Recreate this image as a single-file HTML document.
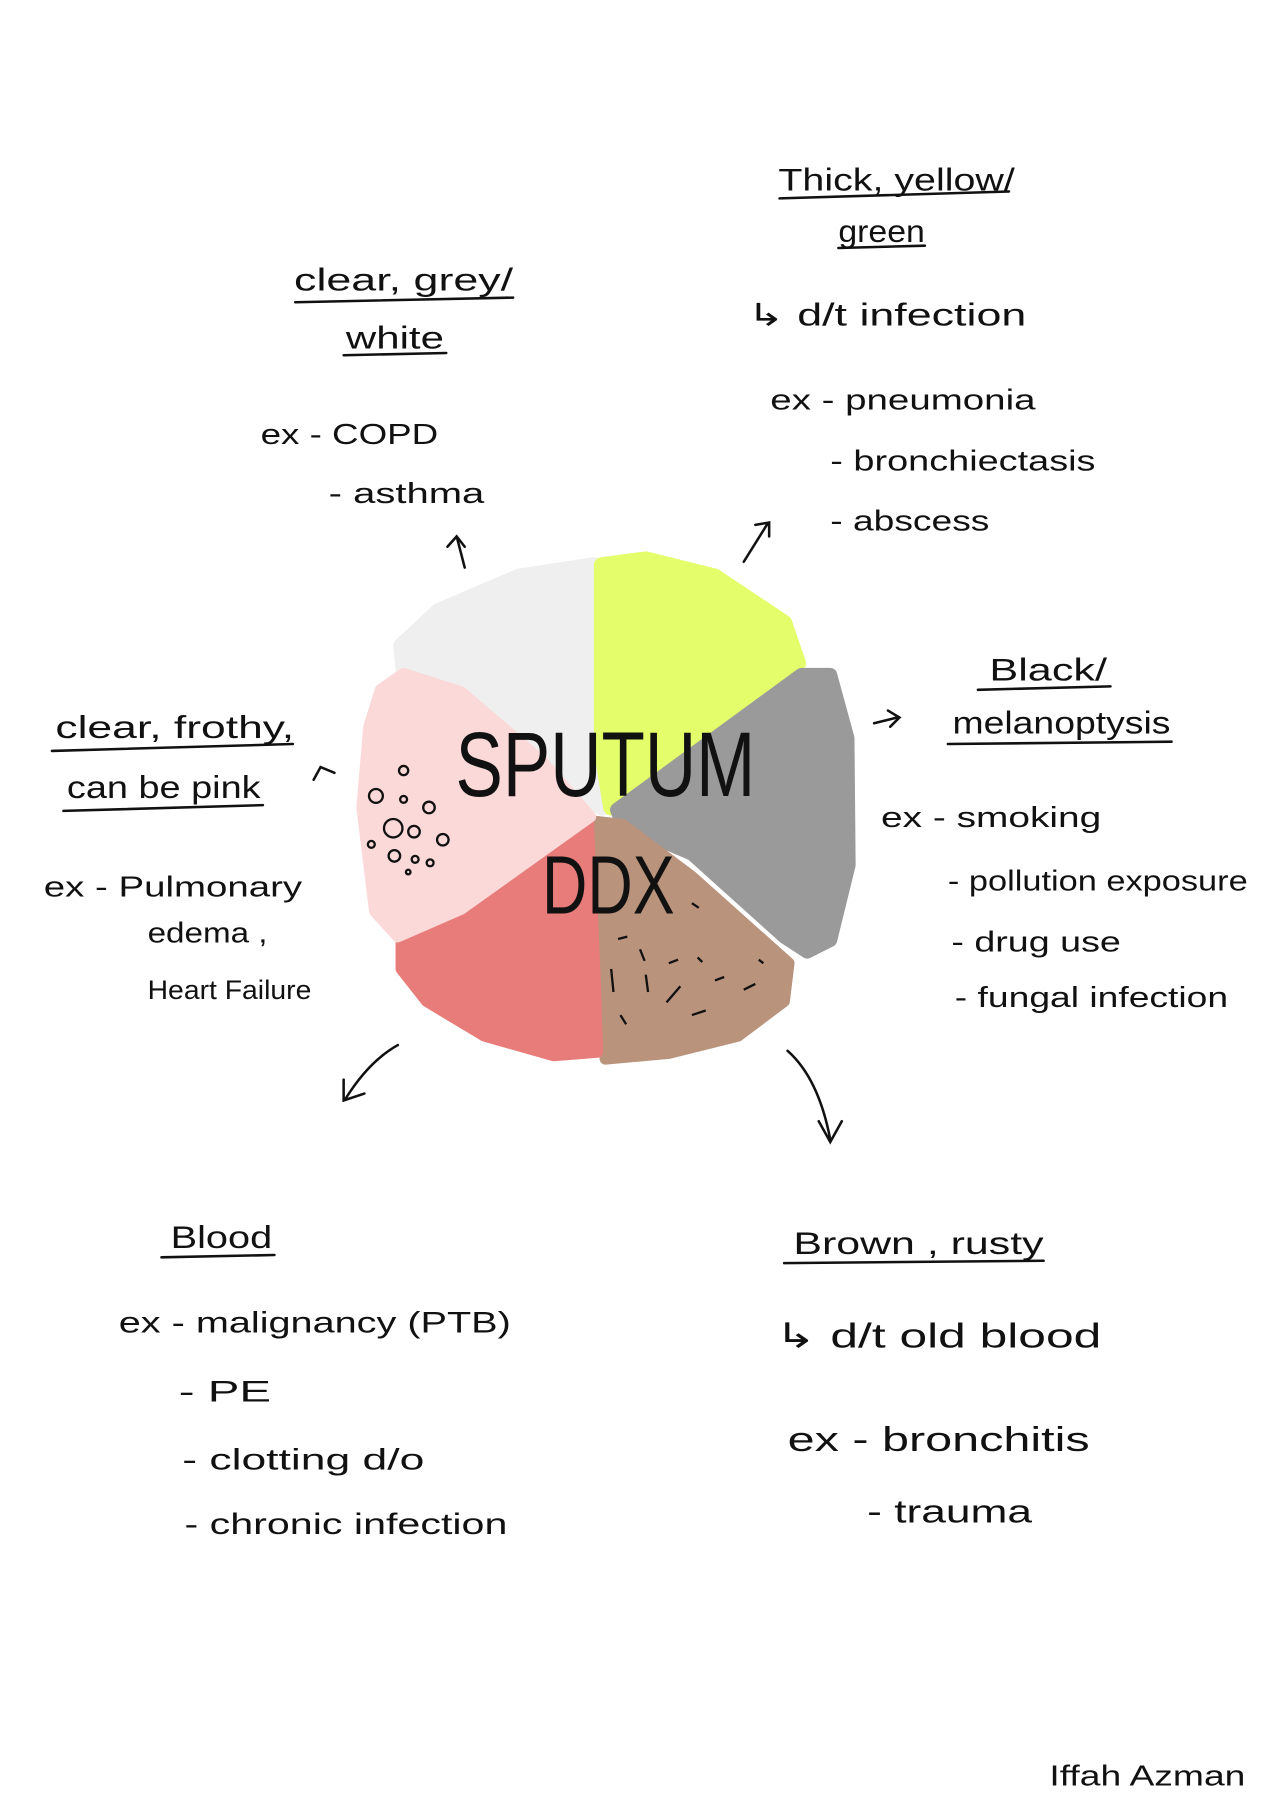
<!DOCTYPE html>
<html><head><meta charset="utf-8"><style>
html,body{margin:0;padding:0;background:#fff;width:1280px;height:1811px;overflow:hidden}
svg{display:block}
text{font-family:"Liberation Sans",sans-serif;fill:#111}
</style></head><body>
<svg width="1280" height="1811" viewBox="0 0 1110 1570" preserveAspectRatio="none" xmlns="http://www.w3.org/2000/svg">
<rect width="1110" height="1570" fill="#fff"/>
<g stroke-linejoin="round">
<path d="M348,560 L380,530 L450,500 L515,490 L522,700 L490,680 L400,600 L350,580Z" fill="#efefef" stroke="#efefef" stroke-width="14"/>
<path d="M522,490 L560,485 L620,500 L680,540 L692,575 L530,700 L522,650Z" fill="#e4fd6a" stroke="#e4fd6a" stroke-width="14"/>
<path d="M535,702 L695,585 L720,585 L735,640 L736,750 L720,815 L700,825 L680,812 L600,740 L540,715Z" fill="#9a9a9a" stroke="#9a9a9a" stroke-width="12"/>
<path d="M515,712 L540,715 L600,760 L684,835 L680,868 L640,898 L580,913 L525,918 L517,850Z" fill="#b9937b" stroke="#b9937b" stroke-width="10"/>
<path d="M348,818 L400,790 L510,712 L516,850 L518,912 L480,915 L420,898 L370,868 L348,840Z" fill="#e87c7a" stroke="#e87c7a" stroke-width="10"/>
<path d="M330,598 L350,584 L400,600 L470,660 L512,708 L400,788 L345,812 L325,790 L314,700 L320,630Z" fill="#fcd9d9" stroke="#fcd9d9" stroke-width="10"/>
</g>
<g fill="none" stroke="#111" stroke-width="2">
<circle cx="350" cy="668" r="4"/><circle cx="326" cy="690" r="6"/><circle cx="350" cy="693" r="3"/><circle cx="372" cy="700" r="5"/>
<circle cx="341" cy="718" r="8"/><circle cx="359" cy="721" r="5"/><circle cx="384" cy="728" r="5"/><circle cx="322" cy="732" r="3"/>
<circle cx="342" cy="742" r="5"/><circle cx="360" cy="745" r="3"/><circle cx="373" cy="748" r="3"/><circle cx="354" cy="756" r="2"/>
<path d="M536,814 l8,-2 M555,823 l4,10 M580,835 l8,-3 M605,830 l4,4 M620,850 l8,-3 M530,840 l2,20 M560,845 l2,15 M590,855 l-12,14 M538,880 l5,8 M600,880 l12,-4 M645,858 l10,-5 M600,783 l6,4 M658,832 l4,3"/>
</g>
<text x="395" y="690" font-size="80" textLength="260" lengthAdjust="spacingAndGlyphs">SPUTUM</text>
<text x="470" y="792" font-size="72" textLength="115" lengthAdjust="spacingAndGlyphs">DDX</text>
<g fill="none" stroke="#111" stroke-width="2.2" stroke-linecap="round">
<path d="M403,492 L396,465 M388,474 L396,465 L403,474"/>
<path d="M645,487 L665,455 M655,455 L667,453 L667,465"/>
<path d="M758,627 L778,622 M770,616 L780,622 L772,630"/>
<path d="M290,670 L278,665 L272,676"/>
<path d="M345,906 Q320,920 300,952 M298,936 L298,954 L316,948"/>
<path d="M683,911 Q710,935 720,988 M710,972 L720,990 L730,972"/>
<path d="M256,262 L445,258 M298,308 L387,306 M676,172 L875,166 M727,215 L802,213 M848,598 L963,595 M822,645 L1016,643 M45,651 L254,645 M55,703 L228,698 M140,1090 L238,1088 M680,1095 L905,1093"/>
</g>
<g font-size="27" lengthAdjust="spacingAndGlyphs">
<text x="255" y="252" textLength="190" lengthAdjust="spacingAndGlyphs">clear, grey/</text>
<text x="300" y="302" textLength="85" lengthAdjust="spacingAndGlyphs">white</text>
<text x="226" y="385" font-size="25" textLength="154" lengthAdjust="spacingAndGlyphs">ex  -  COPD</text>
<text x="285" y="436" font-size="25" textLength="135" lengthAdjust="spacingAndGlyphs">-  asthma</text>
<text x="675" y="165" textLength="205" lengthAdjust="spacingAndGlyphs">Thick, yellow/</text>
<text x="727" y="210" textLength="75" lengthAdjust="spacingAndGlyphs">green</text>
<text x="648" y="282" textLength="242" lengthAdjust="spacingAndGlyphs">↳ d/t  infection</text>
<text x="668" y="355" font-size="25" textLength="230" lengthAdjust="spacingAndGlyphs">ex  -  pneumonia</text>
<text x="720" y="408" font-size="25" textLength="230" lengthAdjust="spacingAndGlyphs">-  bronchiectasis</text>
<text x="720" y="460" font-size="25" textLength="138" lengthAdjust="spacingAndGlyphs">-  abscess</text>
<text x="858" y="590" textLength="102" lengthAdjust="spacingAndGlyphs">Black/</text>
<text x="826" y="636" textLength="189" lengthAdjust="spacingAndGlyphs">melanoptysis</text>
<text x="764" y="717" font-size="25" textLength="191" lengthAdjust="spacingAndGlyphs">ex  -  smoking</text>
<text x="822" y="772" font-size="25" textLength="260" lengthAdjust="spacingAndGlyphs">-  pollution exposure</text>
<text x="825" y="825" font-size="25" textLength="147" lengthAdjust="spacingAndGlyphs">-  drug  use</text>
<text x="828" y="873" font-size="25" textLength="237" lengthAdjust="spacingAndGlyphs">-  fungal  infection</text>
<text x="48" y="640" textLength="207" lengthAdjust="spacingAndGlyphs">clear, frothy,</text>
<text x="58" y="692" textLength="168" lengthAdjust="spacingAndGlyphs">can be pink</text>
<text x="38" y="777" font-size="25" textLength="224" lengthAdjust="spacingAndGlyphs">ex  -  Pulmonary</text>
<text x="128" y="817" font-size="25" textLength="104" lengthAdjust="spacingAndGlyphs">edema ,</text>
<text x="128" y="866" font-size="23" textLength="142" lengthAdjust="spacingAndGlyphs">Heart  Failure</text>
<text x="148" y="1082" textLength="88" lengthAdjust="spacingAndGlyphs">Blood</text>
<text x="103" y="1155" font-size="26" textLength="340" lengthAdjust="spacingAndGlyphs">ex  -  malignancy (PTB)</text>
<text x="155" y="1215" font-size="26" textLength="80" lengthAdjust="spacingAndGlyphs">-  PE</text>
<text x="158" y="1274" font-size="26" textLength="210" lengthAdjust="spacingAndGlyphs">-  clotting  d/o</text>
<text x="160" y="1330" font-size="26" textLength="280" lengthAdjust="spacingAndGlyphs">-  chronic  infection</text>
<text x="688" y="1087" textLength="217" lengthAdjust="spacingAndGlyphs">Brown , rusty</text>
<text x="672" y="1168" font-size="30" textLength="283" lengthAdjust="spacingAndGlyphs">↳ d/t  old  blood</text>
<text x="683" y="1258" font-size="30" textLength="262" lengthAdjust="spacingAndGlyphs">ex  -  bronchitis</text>
<text x="752" y="1320" font-size="28" textLength="143" lengthAdjust="spacingAndGlyphs">-  trauma</text>
<text x="910" y="1548" font-size="25" textLength="170" lengthAdjust="spacingAndGlyphs">Iffah  Azman</text>
</g>
</svg>
</body></html>
